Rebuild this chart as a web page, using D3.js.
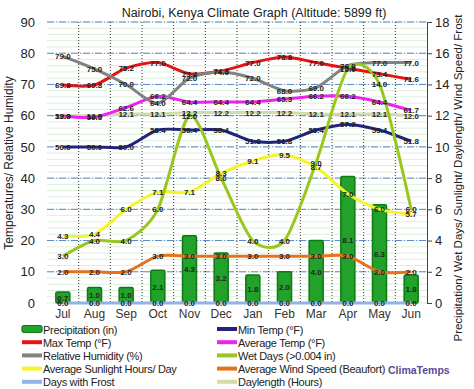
<!DOCTYPE html>
<html>
<head>
<meta charset="utf-8">
<script src="https://d3js.org/d3.v7.min.js"></script>
<style>
body { margin: 0; background: #fff; }
text { font-family: "Liberation Sans", Arial, sans-serif; }
.lbl { font-size: 8px; fill: #222; font-weight: bold; }
</style>
</head>
<body>
<svg width="474" height="389"></svg>
<script>
var months = ["Jul","Aug","Sep","Oct","Nov","Dec","Jan","Feb","Mar","Apr","May","Jun"];
var precip = [0.7, 1.0, 1.0, 2.1, 4.3, 3.2, 1.8, 2.0, 4.0, 8.1, 6.3, 1.8];
var maxTemp = [69.8, 69.8, 75.2, 77.0, 73.4, 74.3, 77.0, 78.8, 77.0, 75.2, 73.4, 71.6];
var minTemp = [50.0, 50.0, 50.0, 55.4, 55.4, 55.4, 51.8, 51.8, 55.4, 57.2, 55.4, 51.8];
var avgTemp = [59.9, 59.5, 62.6, 66.2, 64.4, 64.4, 64.4, 65.3, 66.2, 66.2, 64.4, 61.7];
var humidity = [79.0, 75.0, 70.0, 64.0, 72.0, 74.0, 72.0, 68.0, 69.0, 76.0, 77.0, 77.0];
var wetDays = [3.0, 4.0, 4.0, 6.0, 12.0, 8.0, 4.0, 4.0, 9.0, 15.0, 14.0, 6.0];
var sunlight = [4.3, 4.4, 6.0, 7.1, 7.1, 8.3, 9.1, 9.5, 8.7, 7.0, 6.0, 5.7];
var windSpeed = [2.0, 2.0, 2.0, 3.0, 3.0, 3.0, 3.0, 3.0, 3.0, 3.0, 2.0, 2.0];
var frostDays = [0, 0, 0, 0, 0, 0, 0, 0, 0, 0, 0, 0];
var daylength = [12.0, 12.0, 12.1, 12.1, 12.2, 12.2, 12.2, 12.2, 12.1, 12.1, 12.1, 12.0];
var leftTicks = [0, 10, 20, 30, 40, 50, 60, 70, 80, 90];
var rightTicks = [0, 2, 4, 6, 8, 10, 12, 14, 16, 18];

var svg = d3.select("svg"),
    plotL = 47, plotR = 427, plotT = 22, plotB = 303;

var x = d3.scaleBand().domain(months).range([plotL, plotR]);
var yL = d3.scaleLinear().domain([0, 90]).range([plotB, plotT]);
var yR = d3.scaleLinear().domain([0, 18]).range([plotB, plotT]);
var fmt = d3.format(".1f");

// minor grid (light green)
svg.append("g").selectAll("line")
    .data(d3.range(0, 91, 2))
    .join("line")
    .attr("x1", plotL).attr("x2", plotR)
    .attr("y1", d => yL(d)).attr("y2", d => yL(d))
    .attr("stroke", "#dcefdc").attr("stroke-width", 1);

// major grid (blue dash-dot)
svg.append("g").selectAll("line")
    .data(leftTicks.slice(1))
    .join("line")
    .attr("x1", plotL).attr("x2", plotR)
    .attr("y1", d => yL(d)).attr("y2", d => yL(d))
    .attr("stroke", "#5a86cc").attr("stroke-width", 1)
    .attr("stroke-dasharray", "7,2,1,2");

// vertical month separators
svg.append("g").selectAll("line")
    .data(months.slice(1))
    .join("line")
    .attr("x1", d => x(d)).attr("x2", d => x(d))
    .attr("y1", plotT).attr("y2", plotB)
    .attr("stroke", "#333").attr("stroke-width", 1)
    .attr("stroke-dasharray", "1,2");

// left axis labels
svg.append("g")
    .attr("transform", "translate(" + plotL + ",0)")
    .call(d3.axisLeft(yL).tickValues(leftTicks).tickSize(0).tickPadding(12))
    .call(g => g.select(".domain").remove())
    .selectAll("text").attr("font-size", 13).attr("fill", "#222")
    .attr("font-family", "Liberation Sans, Arial, sans-serif");

// right axis
var ra = svg.append("g")
    .attr("transform", "translate(" + plotR + ",0)")
    .call(d3.axisRight(yR).tickValues(rightTicks).tickSize(5).tickPadding(3));
ra.select(".domain").attr("stroke", "#444");
ra.selectAll("line").attr("stroke", "#444");
ra.selectAll("text").attr("font-size", 13).attr("fill", "#222")
    .attr("font-family", "Liberation Sans, Arial, sans-serif");

// month labels
svg.append("g")
    .attr("transform", "translate(0," + plotB + ")")
    .call(d3.axisBottom(x).tickSize(0).tickPadding(6))
    .call(g => g.select(".domain").remove())
    .selectAll("text").attr("font-size", 12).attr("fill", "#333")
    .attr("font-family", "Liberation Sans, Arial, sans-serif");

// precipitation bars
var bw = 14;
svg.append("g").selectAll("rect")
    .data(precip)
    .join("rect")
    .attr("x", (d, i) => x(months[i]) + x.bandwidth() / 2 - bw / 2)
    .attr("y", d => yR(d))
    .attr("width", bw)
    .attr("height", d => yR(0) - yR(d))
    .attr("rx", 1.5)
    .attr("fill", "#22a22a").attr("stroke", "#0d7a12").attr("stroke-width", 1.5);

var cx = (d, i) => x(months[i]) + x.bandwidth() / 2;

var series = [
    {vals: frostDays, y: yR, color: "#8fb4e3"},
    {vals: daylength, y: yR, color: "#d2dca8"},
    {vals: windSpeed, y: yR, color: "#e5731c"},
    {vals: sunlight, y: yR, color: "#f4f42a"},
    {vals: minTemp, y: yL, color: "#22227f"},
    {vals: avgTemp, y: yL, color: "#ee22ee"},
    {vals: maxTemp, y: yL, color: "#e31414"},
    {vals: humidity, y: yL, color: "#828282"},
    {vals: wetDays, y: yR, color: "#9ac71d"}
];

series.forEach(function(s) {
    var line = d3.line()
        .x(cx)
        .y(d => s.y(d))
        .curve(d3.curveCardinal.tension(0.2));
    svg.append("path")
        .attr("d", line(s.vals))
        .attr("fill", "none")
        .attr("stroke", s.color)
        .attr("stroke-width", 3);
});

// value labels
series.forEach(function(s) {
    svg.append("g").selectAll("text")
        .data(s.vals)
        .join("text")
        .attr("class", "lbl")
        .attr("x", cx)
        .attr("y", d => s.y(d) + 3)
        .attr("text-anchor", "middle")
        .text(d => fmt(d));
});

// precipitation labels at mid bar
svg.append("g").selectAll("text")
    .data(precip)
    .join("text")
    .attr("class", "lbl")
    .attr("x", cx)
    .attr("y", d => yR(d / 2) + 3)
    .attr("text-anchor", "middle")
    .text(d => fmt(d));

// title
svg.append("text")
    .attr("x", 254).attr("y", 17)
    .attr("text-anchor", "middle")
    .attr("font-size", 12.5).attr("fill", "#222")
    .text("Nairobi, Kenya Climate Graph (Altitude: 5899 ft)");

// axis titles
svg.append("text")
    .attr("transform", "translate(13,163) rotate(-90)")
    .attr("text-anchor", "middle")
    .attr("font-size", 12).attr("fill", "#222")
    .text("Temperatures/ Relative Humidity");
svg.append("text")
    .attr("transform", "translate(462,178) rotate(-90)")
    .attr("text-anchor", "middle")
    .attr("font-size", 11.5).attr("fill", "#222")
    .text("Precipitation/ Wet Days/ Sunlight/ Daylength/ Wind Speed/ Frost");

// legend
var legendItems = [
    {name: "Precipitation (in)", color: "#22a22a", bar: true, col: 0, row: 0},
    {name: "Max Temp (°F)", color: "#e31414", col: 0, row: 1},
    {name: "Relative Humidity (%)", color: "#828282", col: 0, row: 2},
    {name: "Average Sunlight Hours/ Day", color: "#f4f42a", col: 0, row: 3},
    {name: "Days with Frost", color: "#8fb4e3", col: 0, row: 4},
    {name: "Min Temp (°F)", color: "#22227f", col: 1, row: 0},
    {name: "Average Temp (°F)", color: "#ee22ee", col: 1, row: 1},
    {name: "Wet Days (>0.004 in)", color: "#9ac71d", col: 1, row: 2},
    {name: "Average Wind Speed (Beaufort)", color: "#e5731c", col: 1, row: 3},
    {name: "Daylength (Hours)", color: "#d2dca8", col: 1, row: 4}
];
var lg = svg.append("g").selectAll("g")
    .data(legendItems)
    .join("g")
    .attr("transform", d => "translate(" + (d.col ? 217 : 22) + "," + (329 + d.row * 13.2) + ")");
lg.append("rect")
    .attr("x", 0).attr("y", d => d.bar ? -3.5 : -2)
    .attr("width", 20).attr("height", d => d.bar ? 7 : 4)
    .attr("rx", d => d.bar ? 2 : 0)
    .attr("fill", d => d.color)
    .attr("stroke", d => d.bar ? "#0d7a12" : "none")
    .attr("stroke-width", 1.2);
lg.append("text")
    .attr("x", 21).attr("y", 4.5)
    .attr("font-size", 11).attr("letter-spacing", -0.3).attr("fill", "#222")
    .text(d => d.name);

svg.append("text")
    .attr("x", 388).attr("y", 374)
    .attr("font-size", 10.5).attr("font-weight", "bold").attr("fill", "#5b4a9c")
    .text("ClimaTemps");
</script>
</body>
</html>
